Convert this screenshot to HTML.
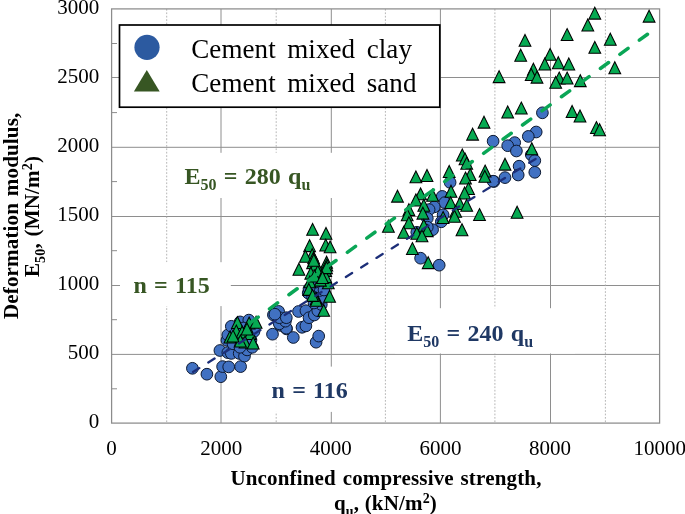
<!DOCTYPE html>
<html><head><meta charset="utf-8"><title>Deformation modulus vs unconfined compressive strength</title>
<style>
html,body{margin:0;padding:0;background:#fff;}
body{width:685px;height:514px;overflow:hidden;font-family:"Liberation Serif","Times New Roman",serif;}
svg{display:block;}
svg text{font-family:"Liberation Serif","Times New Roman",serif;}
.tick{font-size:21px;fill:#000;}
.ttl{font-size:21px;font-weight:bold;fill:#000;word-spacing:1.3px;letter-spacing:0.17px;}
.ann{font-size:24px;font-weight:bold;word-spacing:1.3px;}
.leg{font-size:27px;fill:#000;word-spacing:4.6px;letter-spacing:0.1px;}
</style></head>
<body>
<svg width="685" height="514" viewBox="0 0 685 514">
<defs><path id="t" d="M0,-5.9 L5.9,6 L-5.9,6 Z"/></defs>
<rect width="685" height="514" fill="#fff"/>
<g stroke="#8e8e8e" stroke-width="1" fill="none">
<line x1="221.0" y1="9" x2="221.0" y2="423"/>
<line x1="331.3" y1="9" x2="331.3" y2="423"/>
<line x1="440.4" y1="9" x2="440.4" y2="423"/>
<line x1="550.5" y1="9" x2="550.5" y2="423"/>
<line x1="111.5" y1="77.5" x2="659.5" y2="77.5"/>
<line x1="111.5" y1="147.3" x2="659.5" y2="147.3"/>
<line x1="111.5" y1="216.5" x2="659.5" y2="216.5"/>
<line x1="111.5" y1="285.5" x2="659.5" y2="285.5"/>
<line x1="111.5" y1="354.4" x2="659.5" y2="354.4"/>
</g>
<g stroke="#a8a8a8" stroke-width="0.85" stroke-dasharray="1.7 1.7" fill="none">
<line x1="166.7" y1="9" x2="166.7" y2="423"/>
<line x1="276.2" y1="9" x2="276.2" y2="423"/>
<line x1="385.4" y1="9" x2="385.4" y2="423"/>
<line x1="494.9" y1="9" x2="494.9" y2="423"/>
<line x1="605.4" y1="9" x2="605.4" y2="423"/>
</g>
<g stroke="#8c8c8c" stroke-width="1">
<line x1="111.5" y1="388.8" x2="117" y2="388.8"/>
<line x1="111.5" y1="319.7" x2="117" y2="319.7"/>
<line x1="111.5" y1="250.7" x2="117" y2="250.7"/>
<line x1="111.5" y1="181.6" x2="117" y2="181.6"/>
<line x1="111.5" y1="112.6" x2="117" y2="112.6"/>
<line x1="111.5" y1="43.5" x2="117" y2="43.5"/>
</g>
<rect x="111.6" y="8.9" width="548" height="414.2" fill="none" stroke="#8c8c8c" stroke-width="1.25"/>
<!-- text boxes -->
<rect x="172" y="152.8" width="173" height="45.2" fill="#fff"/>
<rect x="120" y="262.2" width="110.8" height="43.9" fill="#fff"/>
<rect x="395" y="308.2" width="180" height="45.3" fill="#fff"/>
<rect x="258" y="366.6" width="102" height="45.3" fill="#fff"/>
<g fill="#4171c2" stroke="#0c1830" stroke-width="1">
<circle cx="192.4" cy="368.3" r="5.85"/>
<circle cx="206.9" cy="374.2" r="5.85"/>
<circle cx="220.8" cy="376.7" r="5.85"/>
<circle cx="222.6" cy="366.6" r="5.85"/>
<circle cx="228.7" cy="366.9" r="5.85"/>
<circle cx="240.6" cy="366.6" r="5.85"/>
<circle cx="219.9" cy="350.5" r="5.85"/>
<circle cx="227.8" cy="352.6" r="5.85"/>
<circle cx="231.3" cy="353.4" r="5.85"/>
<circle cx="239.2" cy="353.4" r="5.85"/>
<circle cx="244.5" cy="356.1" r="5.85"/>
<circle cx="247.1" cy="349.9" r="5.85"/>
<circle cx="252.3" cy="347.3" r="5.85"/>
<circle cx="226.9" cy="340.3" r="5.85"/>
<circle cx="227.8" cy="335.0" r="5.85"/>
<circle cx="231.3" cy="326.3" r="5.85"/>
<circle cx="240.1" cy="321.9" r="5.85"/>
<circle cx="248.8" cy="320.1" r="5.85"/>
<circle cx="233.0" cy="343.8" r="5.85"/>
<circle cx="240.0" cy="347.3" r="5.85"/>
<circle cx="247.0" cy="335.0" r="5.85"/>
<circle cx="254.0" cy="331.5" r="5.85"/>
<circle cx="243.5" cy="328.0" r="5.85"/>
<circle cx="236.0" cy="333.0" r="5.85"/>
<circle cx="251.0" cy="340.0" r="5.85"/>
<circle cx="272.5" cy="334.2" r="5.85"/>
<circle cx="278.6" cy="311.4" r="5.85"/>
<circle cx="273.4" cy="314.9" r="5.85"/>
<circle cx="279.5" cy="319.3" r="5.85"/>
<circle cx="280.4" cy="325.4" r="5.85"/>
<circle cx="286.5" cy="328.9" r="5.85"/>
<circle cx="293.3" cy="337.5" r="5.85"/>
<circle cx="316.1" cy="342.2" r="5.85"/>
<circle cx="318.7" cy="336.1" r="5.85"/>
<circle cx="302.0" cy="327.3" r="5.85"/>
<circle cx="305.9" cy="325.9" r="5.85"/>
<circle cx="286.3" cy="328.2" r="5.85"/>
<circle cx="279.3" cy="323.8" r="5.85"/>
<circle cx="285.4" cy="321.2" r="5.85"/>
<circle cx="279.3" cy="317.7" r="5.85"/>
<circle cx="274.9" cy="314.2" r="5.85"/>
<circle cx="286.3" cy="317.7" r="5.85"/>
<circle cx="298.5" cy="311.5" r="5.85"/>
<circle cx="305.9" cy="310.7" r="5.85"/>
<circle cx="309.0" cy="317.7" r="5.85"/>
<circle cx="314.3" cy="315.0" r="5.85"/>
<circle cx="317.8" cy="310.7" r="5.85"/>
<circle cx="321.3" cy="304.5" r="5.85"/>
<circle cx="323.0" cy="297.5" r="5.85"/>
<circle cx="319.6" cy="290.5" r="5.85"/>
<circle cx="308.2" cy="293.1" r="5.85"/>
<circle cx="312.6" cy="297.5" r="5.85"/>
<circle cx="318.7" cy="287.0" r="5.85"/>
<circle cx="309.0" cy="288.8" r="5.85"/>
<circle cx="314.0" cy="303.0" r="5.85"/>
<circle cx="324.0" cy="290.0" r="5.85"/>
<circle cx="316.0" cy="282.0" r="5.85"/>
<circle cx="450.1" cy="182.4" r="5.85"/>
<circle cx="442.2" cy="196.4" r="5.85"/>
<circle cx="444.8" cy="202.6" r="5.85"/>
<circle cx="434.3" cy="206.9" r="5.85"/>
<circle cx="429.1" cy="209.6" r="5.85"/>
<circle cx="443.1" cy="214.8" r="5.85"/>
<circle cx="441.3" cy="221.8" r="5.85"/>
<circle cx="427.3" cy="218.3" r="5.85"/>
<circle cx="432.6" cy="229.7" r="5.85"/>
<circle cx="427.3" cy="227.1" r="5.85"/>
<circle cx="416.8" cy="232.3" r="5.85"/>
<circle cx="493.9" cy="181.5" r="5.85"/>
<circle cx="420.6" cy="258.2" r="5.85"/>
<circle cx="439.2" cy="265.2" r="5.85"/>
<circle cx="542.4" cy="112.8" r="5.85"/>
<circle cx="536.2" cy="132.0" r="5.85"/>
<circle cx="528.3" cy="136.4" r="5.85"/>
<circle cx="493.1" cy="141.2" r="5.85"/>
<circle cx="514.7" cy="142.6" r="5.85"/>
<circle cx="507.7" cy="145.7" r="5.85"/>
<circle cx="516.4" cy="151.0" r="5.85"/>
<circle cx="531.3" cy="154.8" r="5.85"/>
<circle cx="534.8" cy="160.6" r="5.85"/>
<circle cx="519.1" cy="166.2" r="5.85"/>
<circle cx="534.8" cy="172.3" r="5.85"/>
<circle cx="518.2" cy="175.0" r="5.85"/>
<circle cx="505.0" cy="177.6" r="5.85"/>
<circle cx="493.1" cy="181.2" r="5.85"/>
</g>
<g fill="#06aa52" stroke="#000" stroke-width="1.05" stroke-linejoin="miter">
<use href="#t" x="237.4" y="322.5"/>
<use href="#t" x="249.1" y="323.0"/>
<use href="#t" x="256.1" y="322.2"/>
<use href="#t" x="236.3" y="331.0"/>
<use href="#t" x="242.1" y="332.0"/>
<use href="#t" x="250.3" y="333.5"/>
<use href="#t" x="229.9" y="337.0"/>
<use href="#t" x="245.0" y="342.0"/>
<use href="#t" x="253.2" y="343.0"/>
<use href="#t" x="240.4" y="341.0"/>
<use href="#t" x="233.0" y="336.0"/>
<use href="#t" x="247.0" y="329.0"/>
<use href="#t" x="312.6" y="229.3"/>
<use href="#t" x="326.0" y="233.3"/>
<use href="#t" x="309.6" y="245.6"/>
<use href="#t" x="325.7" y="245.0"/>
<use href="#t" x="330.1" y="246.8"/>
<use href="#t" x="312.2" y="254.7"/>
<use href="#t" x="305.4" y="256.2"/>
<use href="#t" x="326.6" y="262.2"/>
<use href="#t" x="298.9" y="269.2"/>
<use href="#t" x="312.6" y="262.6"/>
<use href="#t" x="316.0" y="264.3"/>
<use href="#t" x="310.8" y="273.1"/>
<use href="#t" x="325.7" y="270.4"/>
<use href="#t" x="317.8" y="271.3"/>
<use href="#t" x="309.9" y="281.8"/>
<use href="#t" x="328.3" y="282.7"/>
<use href="#t" x="320.4" y="280.1"/>
<use href="#t" x="325.7" y="276.6"/>
<use href="#t" x="308.8" y="289.4"/>
<use href="#t" x="329.6" y="296.2"/>
<use href="#t" x="316.3" y="298.4"/>
<use href="#t" x="313.6" y="257.8"/>
<use href="#t" x="313.8" y="260.2"/>
<use href="#t" x="326.8" y="265.0"/>
<use href="#t" x="326.5" y="267.6"/>
<use href="#t" x="314.5" y="276.0"/>
<use href="#t" x="322.5" y="277.5"/>
<use href="#t" x="323.7" y="310.3"/>
<use href="#t" x="316.3" y="300.2"/>
<use href="#t" x="312.6" y="295.4"/>
<use href="#t" x="397.5" y="196.1"/>
<use href="#t" x="415.9" y="176.8"/>
<use href="#t" x="427.0" y="175.4"/>
<use href="#t" x="449.2" y="171.4"/>
<use href="#t" x="462.3" y="154.9"/>
<use href="#t" x="465.0" y="158.8"/>
<use href="#t" x="466.7" y="163.1"/>
<use href="#t" x="470.2" y="174.5"/>
<use href="#t" x="465.5" y="178.0"/>
<use href="#t" x="485.1" y="171.0"/>
<use href="#t" x="484.8" y="176.3"/>
<use href="#t" x="420.6" y="193.8"/>
<use href="#t" x="415.9" y="199.9"/>
<use href="#t" x="432.6" y="195.2"/>
<use href="#t" x="451.0" y="191.2"/>
<use href="#t" x="468.5" y="188.5"/>
<use href="#t" x="464.6" y="192.9"/>
<use href="#t" x="423.8" y="205.2"/>
<use href="#t" x="408.9" y="209.6"/>
<use href="#t" x="422.9" y="213.1"/>
<use href="#t" x="450.6" y="202.6"/>
<use href="#t" x="459.7" y="203.4"/>
<use href="#t" x="466.7" y="205.2"/>
<use href="#t" x="455.7" y="211.3"/>
<use href="#t" x="407.2" y="214.8"/>
<use href="#t" x="443.1" y="217.5"/>
<use href="#t" x="454.5" y="216.2"/>
<use href="#t" x="479.5" y="214.5"/>
<use href="#t" x="408.9" y="222.7"/>
<use href="#t" x="388.4" y="226.2"/>
<use href="#t" x="403.7" y="232.3"/>
<use href="#t" x="423.8" y="225.3"/>
<use href="#t" x="427.3" y="230.6"/>
<use href="#t" x="416.8" y="233.2"/>
<use href="#t" x="462.0" y="229.7"/>
<use href="#t" x="422.0" y="235.8"/>
<use href="#t" x="412.4" y="248.5"/>
<use href="#t" x="428.2" y="262.6"/>
<use href="#t" x="517.1" y="212.2"/>
<use href="#t" x="507.7" y="111.9"/>
<use href="#t" x="521.3" y="108.0"/>
<use href="#t" x="484.0" y="122.1"/>
<use href="#t" x="472.6" y="134.1"/>
<use href="#t" x="572.1" y="111.4"/>
<use href="#t" x="580.0" y="115.9"/>
<use href="#t" x="531.8" y="148.7"/>
<use href="#t" x="505.0" y="164.1"/>
<use href="#t" x="594.8" y="13.1"/>
<use href="#t" x="587.8" y="24.9"/>
<use href="#t" x="567.1" y="34.5"/>
<use href="#t" x="525.0" y="40.3"/>
<use href="#t" x="594.8" y="47.3"/>
<use href="#t" x="610.3" y="39.2"/>
<use href="#t" x="520.7" y="55.2"/>
<use href="#t" x="550.1" y="54.3"/>
<use href="#t" x="544.8" y="63.9"/>
<use href="#t" x="558.3" y="62.7"/>
<use href="#t" x="568.8" y="63.9"/>
<use href="#t" x="533.4" y="69.2"/>
<use href="#t" x="531.2" y="74.5"/>
<use href="#t" x="537.0" y="77.1"/>
<use href="#t" x="499.1" y="76.6"/>
<use href="#t" x="559.2" y="78.0"/>
<use href="#t" x="567.1" y="78.0"/>
<use href="#t" x="555.7" y="82.3"/>
<use href="#t" x="580.3" y="80.6"/>
<use href="#t" x="649.1" y="16.1"/>
<use href="#t" x="614.8" y="67.7"/>
<use href="#t" x="596.4" y="127.5"/>
<use href="#t" x="599.6" y="129.7"/>
</g>
<line x1="250.0" y1="323" x2="648.8" y2="33.3" stroke="#0aa656" stroke-width="3.5" stroke-linecap="round" stroke-dasharray="10.1 13.96"/>
<line x1="193" y1="372" x2="537.5" y2="157.7" stroke="#1c2e78" stroke-width="2.3" stroke-linecap="round" stroke-dasharray="7.4 10.6"/>
<g class="tick">
<text x="99.2" y="428.3" text-anchor="end">0</text>
<text x="99.2" y="359.2" text-anchor="end">500</text>
<text x="99.2" y="290.2" text-anchor="end">1000</text>
<text x="99.2" y="221.2" text-anchor="end">1500</text>
<text x="99.2" y="152.1" text-anchor="end">2000</text>
<text x="99.2" y="83.1" text-anchor="end">2500</text>
<text x="99.2" y="14.0" text-anchor="end">3000</text>
<text x="111.6" y="455.3" text-anchor="middle">0</text>
<text x="221.2" y="455.3" text-anchor="middle">2000</text>
<text x="330.8" y="455.3" text-anchor="middle">4000</text>
<text x="440.5" y="455.3" text-anchor="middle">6000</text>
<text x="550.1" y="455.3" text-anchor="middle">8000</text>
<text x="659.7" y="455.3" text-anchor="middle">10000</text>
</g>
<text class="ttl" x="386" y="484.8" text-anchor="middle">Unconfined compressive strength,</text>
<text class="ttl" x="385.5" y="510" text-anchor="middle" style="word-spacing:0">q<tspan font-size="14" dy="5.5">u</tspan><tspan dy="-5.5">, (kN/m</tspan><tspan font-size="14" dy="-7">2</tspan><tspan dy="7">)</tspan></text>
<text class="ttl" transform="translate(18.2,215.8) rotate(-90)" text-anchor="middle">Deformation modulus,</text>
<text class="ttl" transform="translate(38.5,216.5) rotate(-90)" text-anchor="middle">E<tspan font-size="14" dy="6">50</tspan><tspan dy="-6">, (MN/m</tspan><tspan font-size="14" dy="-7">2</tspan><tspan dy="7">)</tspan></text>
<text class="ann" fill="#375623" x="184.5" y="184.2">E<tspan font-size="16" dy="6">50</tspan><tspan dy="-6"> = 280 q</tspan><tspan font-size="16" dy="6">u</tspan></text>
<text class="ann" fill="#375623" x="133.4" y="293.2">n = 115</text>
<text class="ann" fill="#1f3864" x="407.2" y="340.6">E<tspan font-size="16" dy="6">50</tspan><tspan dy="-6"> = 240 q</tspan><tspan font-size="16" dy="6">u</tspan></text>
<text class="ann" fill="#1f3864" x="271.5" y="398.2">n = 116</text>
<!-- legend -->
<rect x="119.5" y="25" width="320.3" height="82.2" fill="#fff" stroke="#000" stroke-width="1.7"/>
<circle cx="147" cy="47.3" r="12.6" fill="#2c5aa0"/>
<path d="M146.8,70 L159.7,91.5 L133.9,91.5 Z" fill="#375623"/>
<text class="leg" x="191.2" y="57.8">Cement mixed clay</text>
<text class="leg" x="191.2" y="91.8">Cement mixed sand</text>
</svg>
</body></html>
